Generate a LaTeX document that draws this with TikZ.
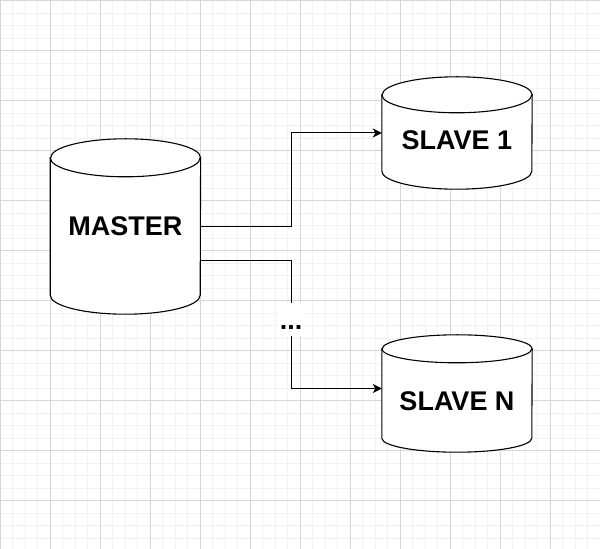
\documentclass[tikz,border=0pt]{standalone}
\usepackage{fontspec}
\setmainfont{Liberation Sans}
\usepackage{tikz}
\usetikzlibrary{arrows.meta, backgrounds}

\begin{document}
\begin{tikzpicture}[
  x=1pt, y=1pt,
  font=\bfseries\fontsize{27}{31}\selectfont,
  db/.style={minimum width=150pt, inner sep=0pt, align=center},
  cylline/.style={draw=black, line width=1.1pt, fill=white},
  arr/.style={-{Stealth[length=9pt, width=9pt, inset=2.5pt]}, line width=1pt},
  dots/.style={fill=white, inner sep=0pt, minimum width=27pt, minimum height=33pt, text height=24pt, text depth=4pt},
  gridminor/.style={black!5, line width=1pt},
  gridmajor/.style={black!16, line width=1pt}
]
  \useasboundingbox (0,0) rectangle (600,549);
  \node[db, minimum height=175pt] (master) at (125.4,322.5) {MASTER};
  \node[db, minimum height=112pt, text height=33pt] (slave1) at (457,416) {SLAVE 1};
  \node[db, minimum height=117pt, text height=35pt] (slaveN) at (457,155.5) {SLAVE N};
  \coordinate (mlow) at ([yshift=-34.5pt]master.east);

  \begin{scope}[on background layer]
    \fill[white] (0,0) rectangle (600,549);
    % grid
    \foreach \gx in {0,12.5,...,600} \draw[gridminor] (\gx,0) -- (\gx,549);
    \foreach \gy in {10.5,23,...,549} \draw[gridminor] (0,\gy) -- (600,\gy);
    \foreach \gx in {0,50,...,600} \draw[gridmajor] (\gx,0) -- (\gx,549);
    \foreach \gy in {48,98,...,548} \draw[gridmajor] (0,\gy) -- (600,\gy);
    % cylinders
    \foreach \n/\ry in {master/19, slave1/18, slaveN/14} {
      \draw[cylline] ([yshift=-\ry pt]\n.north west) -- ([yshift=\ry pt]\n.south west)
        arc[start angle=180, end angle=360, x radius=75pt, y radius=\ry pt]
        -- ([yshift=-\ry pt]\n.north east)
        arc[start angle=0, end angle=180, x radius=75pt, y radius=\ry pt] -- cycle;
      \draw[cylline, fill=none] ([yshift=-\ry pt]\n.north west)
        arc[start angle=180, end angle=360, x radius=75pt, y radius=\ry pt];
    }
  \end{scope}

  \draw[arr] (master.east) -- ++(90.5,0) |- (slave1.west);
  \draw[arr] (mlow) -- ++(90.5,0) |- node[dots, pos=0.23] {...} ([yshift=5pt]slaveN.west);
\end{tikzpicture}
\end{document}
